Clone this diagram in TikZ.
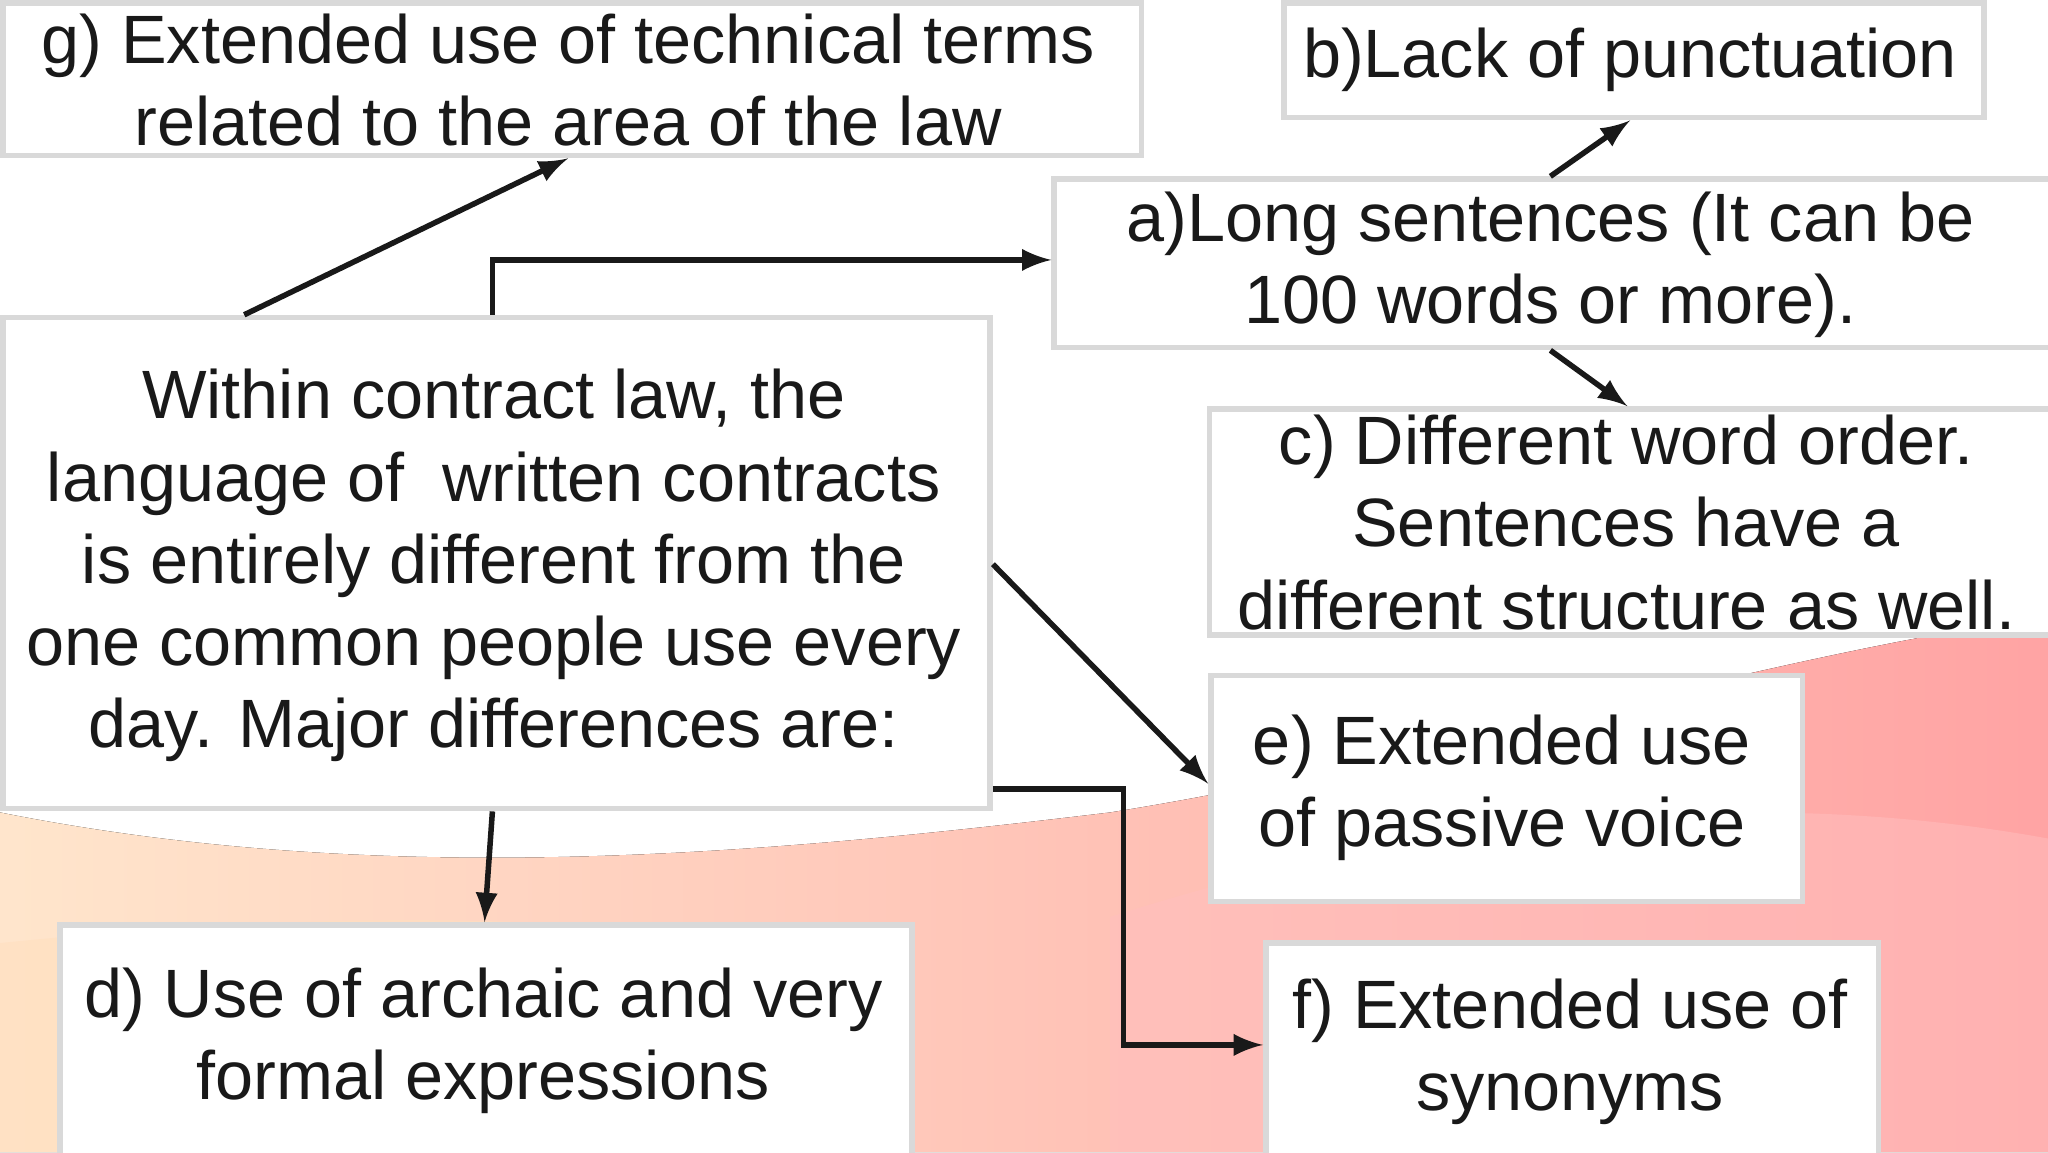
\documentclass[tikz,border=0pt]{standalone}
\usepackage{fontspec}
\setmainfont{Liberation Sans}
\begin{document}
\begin{tikzpicture}[
  box/.style={draw=black!15,line width=1.2pt,fill=white,anchor=north west,inner sep=0pt},
  txt/.style={align=center,font=\fontsize{14.9}{17.9}\selectfont,text=black!90},
  arr/.style={-latex,line width=1.2pt,draw=black!90}]
\useasboundingbox (0,0) rectangle (15.68,8.82);
\clip (0,0) rectangle (15.68,8.82);
% background waves
\fill[left color=orange!20,right color=red!35!pink!70] (0,0) -- (0,2.6) .. controls (3,2.0) and (6,2.3) .. (8.5,2.6) .. controls (11,3.0) and (13.5,3.8) .. (15.68,4.1) -- (15.68,0) -- cycle;
\fill[orange!25,opacity=.6] (0,0) -- (0,1.6) .. controls (2,1.8) and (4,1.9) .. (7,1.5) -- (7,0) -- cycle;
\fill[red!25,opacity=.5] (8.5,0) -- (8.5,1.8) .. controls (11,2.6) and (13.5,2.8) .. (15.68,2.4) -- (15.68,0) -- cycle;
% boxes
\node[box,minimum width=8.72cm,minimum height=1.17cm] (g) at (0,8.82) {};
\node[box,minimum width=5.36cm,minimum height=0.88cm] (b) at (9.81,8.82) {};
\node[box,minimum width=7.7cm,minimum height=1.29cm] (a) at (8.05,7.47) {};
\node[box,minimum width=6.6cm,minimum height=1.73cm] (c) at (9.24,5.71) {};
\node[box,minimum width=4.53cm,minimum height=1.73cm] (e) at (9.25,3.67) {};
\node[box,minimum width=4.69cm,minimum height=1.7cm] (f) at (9.67,1.62) {};
\node[box,minimum width=6.52cm,minimum height=1.8cm] (d) at (0.44,1.76) {};
\node[box,minimum width=7.56cm,minimum height=3.76cm] (m) at (0,6.41) {};
% texts
\node[txt] (gt) at (4.35,8.21) {g) Extended use of technical terms\\related to the area of the law};
\node[txt] (bt) at (12.48,8.36) {b)Lack of punctuation};
\node[txt] (at) at (11.87,6.79) {a)Long sentences (It can be\\100 words or more).};
\node[txt] (ct) at (12.45,4.82) {c) Different word order.\\Sentences have a\\different structure as well.};
\node[txt] (et) at (11.5,2.79) {e) Extended use\\of passive voice};
\node[txt] (ft) at (12.02,0.77) {f) Extended use of\\synonyms};
\node[txt] (dt) at (3.7,0.85) {d) Use of archaic and very\\formal expressions};
\node[txt] (mt) at (3.78,4.49) {Within contract law, the\\language of \ written contracts\\is entirely different from the\\one common people use every\\day. Major differences are:};
% connectors
\coordinate (m1) at ([xshift=1.87cm]m.north west);
\coordinate (g1) at ([xshift=4.35cm]g.south west);
\draw[arr] (m1) -- (g1);
\coordinate (m2) at ([xshift=3.77cm]m.north west);
\coordinate (a1) at ([yshift=-0.64cm]a.north west);
\draw[arr] (m2) |- (a1);
\coordinate (a2) at ([xshift=3.82cm]a.north west);
\coordinate (b1) at ([xshift=2.67cm]b.south west);
\draw[arr] (a2) -- (b1);
\coordinate (a3) at ([xshift=3.82cm]a.south west);
\coordinate (c1) at ([xshift=3.22cm]c.north west);
\draw[arr] (a3) -- (c1);
\coordinate (m3) at ([yshift=-1.91cm]m.north east);
\coordinate (e1) at ([yshift=-0.85cm]e.north west);
\draw[arr] (m3) -- (e1);
\coordinate (m4) at ([xshift=3.77cm]m.south west);
\coordinate (d1) at ([xshift=3.27cm]d.north west);
\draw[arr] (m4) -- (d1);
\coordinate (m5) at ([yshift=0.17cm]m.south east);
\coordinate (k) at (8.6,0);
\coordinate (f1) at ([yshift=-0.8cm]f.north west);
\draw[arr] (m5) -| (k |- f1) -- (f1);
\end{tikzpicture}
\end{document}
